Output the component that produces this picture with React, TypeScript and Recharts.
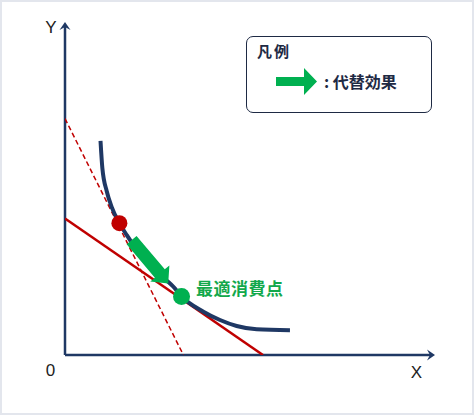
import React from 'react';
import {
  ComposedChart,
  Line,
  XAxis,
  YAxis,
  ReferenceLine,
  ReferenceDot,
  Legend
} from 'recharts';

const NAVY = '#1f3864';
const INK = '#1e2a44';
const RED = '#c00000';
const GREEN = '#00b050';
const CJK = "'Noto Sans CJK JP', 'Noto Sans', sans-serif";
const LATIN = "'Liberation Sans', Arial, sans-serif";

// axis range (X goods, Y goods)
const axisMax = 10;

// indifference curve
const curveX = [0.96, 1.01, 1.13, 1.26, 1.47, 1.67, 2.3, 2.93, 3.15, 3.74, 4.19, 4.64, 5.18, 6.08];
const curveY = [6.43, 5.61, 4.91, 4.45, 3.96, 3.6, 2.65, 2.05, 1.76, 1.3, 1.05, 0.87, 0.77, 0.74];

// budget lines (y-intercept -> x-intercept)
const oldBudgetX = [0, 3.2];
const oldBudgetY = [7.1, 0];
const newBudgetX = [0, 5.35];
const newBudgetY = [4.1, 0];

// consumption points: before the price change, optimum after it
const pointX = [1.47, 3.15];
const pointY = [3.96, 1.76];

// substitution effect arrow (tail -> tip)
const arrowX = [1.8, 2.79];
const arrowY = [3.45, 2.15];

const toRows = (xs: number[], ys: number[]) => xs.map((x, i) => ({ x, y: ys[i] }));

const curveData = toRows(curveX, curveY);
const oldBudgetData = toRows(oldBudgetX, oldBudgetY);
const newBudgetData = toRows(newBudgetX, newBudgetY);

// thin axis line with a small stealth arrow head at the end
const AxisArrow = (props: any) => {
  const { x1, y1, x2, y2 } = props;
  const len = Math.hypot(x2 - x1, y2 - y1);
  const ux = (x2 - x1) / len;
  const uy = (y2 - y1) / len;
  const px = -uy;
  const py = ux;
  const head = [
    [x2, y2],
    [x2 - ux * 8 + px * 5.5, y2 - uy * 8 + py * 5.5],
    [x2 - ux * 5, y2 - uy * 5],
    [x2 - ux * 8 - px * 5.5, y2 - uy * 8 - py * 5.5]
  ];
  return (
    <g>
      <line x1={x1} y1={y1} x2={x2 - ux * 5} y2={y2 - uy * 5} stroke={NAVY} strokeWidth={2.5} />
      <polygon points={head.map(p => p.join(',')).join(' ')} fill={NAVY} />
    </g>
  );
};

// fat block arrow for the substitution effect
const BlockArrow = (props: any) => {
  const { x1, y1, x2, y2 } = props;
  const len = Math.hypot(x2 - x1, y2 - y1);
  const ux = (x2 - x1) / len;
  const uy = (y2 - y1) / len;
  const px = -uy;
  const py = ux;
  const shaft = 6.5;
  const head = 12.5;
  const headLen = 13;
  const bx = x2 - ux * headLen;
  const by = y2 - uy * headLen;
  const pts = [
    [x1 + px * shaft, y1 + py * shaft],
    [bx + px * shaft, by + py * shaft],
    [bx + px * head, by + py * head],
    [x2, y2],
    [bx - px * head, by - py * head],
    [bx - px * shaft, by - py * shaft],
    [x1 - px * shaft, y1 - py * shaft]
  ];
  return <polygon points={pts.map(p => p.join(',')).join(' ')} fill={GREEN} />;
};

const textAt = (value: string, style: React.CSSProperties, anchor: 'start' | 'middle' = 'middle') =>
  (props: any) => (
    <text x={props.cx} y={props.cy} textAnchor={anchor} dominantBaseline="central" style={style}>
      {value}
    </text>
  );

const axisText = { fontFamily: LATIN, fontSize: 17, fill: '#222' };

const LegendBox = () => (
  <div
    style={{
      position: 'relative',
      width: 186,
      height: 77,
      boxSizing: 'border-box',
      border: `1.5px solid ${INK}`,
      borderRadius: 7,
      background: '#fff',
      fontFamily: CJK,
      color: INK
    }}
  >
    <div style={{ position: 'absolute', left: 10, top: 6, fontSize: 15, fontWeight: 700, lineHeight: 1, letterSpacing: 2 }}>
      凡例
    </div>
    <svg style={{ position: 'absolute', left: 29, top: 31 }} width={42} height={28}>
      <polygon points="0,9 28,9 28,0 41,13.5 28,27 28,18 0,18" fill={GREEN} />
    </svg>
    <div style={{ position: 'absolute', left: 77, top: 36, fontSize: 16, fontWeight: 700, lineHeight: 1 }}>
      : 代替効果
    </div>
  </div>
);

export default function App() {
  return (
    <div
      style={{
        position: 'absolute',
        left: 0,
        top: 0,
        width: 474,
        height: 415,
        background: '#fff',
        boxSizing: 'border-box',
        border: '2px solid #e3e6ed'
      }}
    >
      <div style={{ position: 'absolute', left: -2, top: -2 }}>
        <ComposedChart width={474} height={415} margin={{ top: 22, right: 39, bottom: 60, left: 65 }}>
          <XAxis type="number" dataKey="x" domain={[0, axisMax]} hide allowDataOverflow />
          <YAxis type="number" dataKey="y" domain={[0, axisMax]} hide allowDataOverflow />

          <ReferenceLine segment={[{ x: 0, y: 0 }, { x: 0, y: axisMax }]} shape={AxisArrow} ifOverflow="visible" />
          <ReferenceLine segment={[{ x: 0, y: 0 }, { x: axisMax, y: 0 }]} shape={AxisArrow} ifOverflow="visible" />

          <Line
            data={oldBudgetData}
            dataKey="y"
            type="linear"
            stroke={RED}
            strokeWidth={1.5}
            strokeDasharray="5 3"
            dot={false}
            activeDot={false}
            isAnimationActive={false}
          />
          <Line
            data={newBudgetData}
            dataKey="y"
            type="linear"
            stroke={RED}
            strokeWidth={2.5}
            dot={false}
            activeDot={false}
            isAnimationActive={false}
          />
          <Line
            data={curveData}
            dataKey="y"
            type="monotone"
            stroke={NAVY}
            strokeWidth={4}
            dot={false}
            activeDot={false}
            isAnimationActive={false}
          />

          <ReferenceLine
            segment={[{ x: arrowX[0], y: arrowY[0] }, { x: arrowX[1], y: arrowY[1] }]}
            shape={BlockArrow}
          />

          <ReferenceDot x={pointX[0]} y={pointY[0]} r={8} fill={RED} stroke="none" />
          <ReferenceDot x={pointX[1]} y={pointY[1]} r={8.5} fill={GREEN} stroke="none" />

          <ReferenceDot
            x={3.54}
            y={2.03}
            r={0}
            shape={textAt('最適消費点', { fontFamily: CJK, fontSize: 17, fontWeight: 700, fill: '#12a84b', letterSpacing: 0.5 }, 'start')}
          />
          <ReferenceDot x={-0.38} y={9.82} r={0} ifOverflow="visible" shape={textAt('Y', axisText)} />
          <ReferenceDot x={9.5} y={-0.53} r={0} ifOverflow="visible" shape={textAt('X', axisText)} />
          <ReferenceDot x={-0.39} y={-0.47} r={0} ifOverflow="visible" shape={textAt('0', axisText)} />

          <Legend
            layout="vertical"
            align="center"
            verticalAlign="middle"
            content={() => <LegendBox />}
            wrapperStyle={{ left: 246, top: 36, width: 186, height: 77 }}
          />
        </ComposedChart>
      </div>
    </div>
  );
}
